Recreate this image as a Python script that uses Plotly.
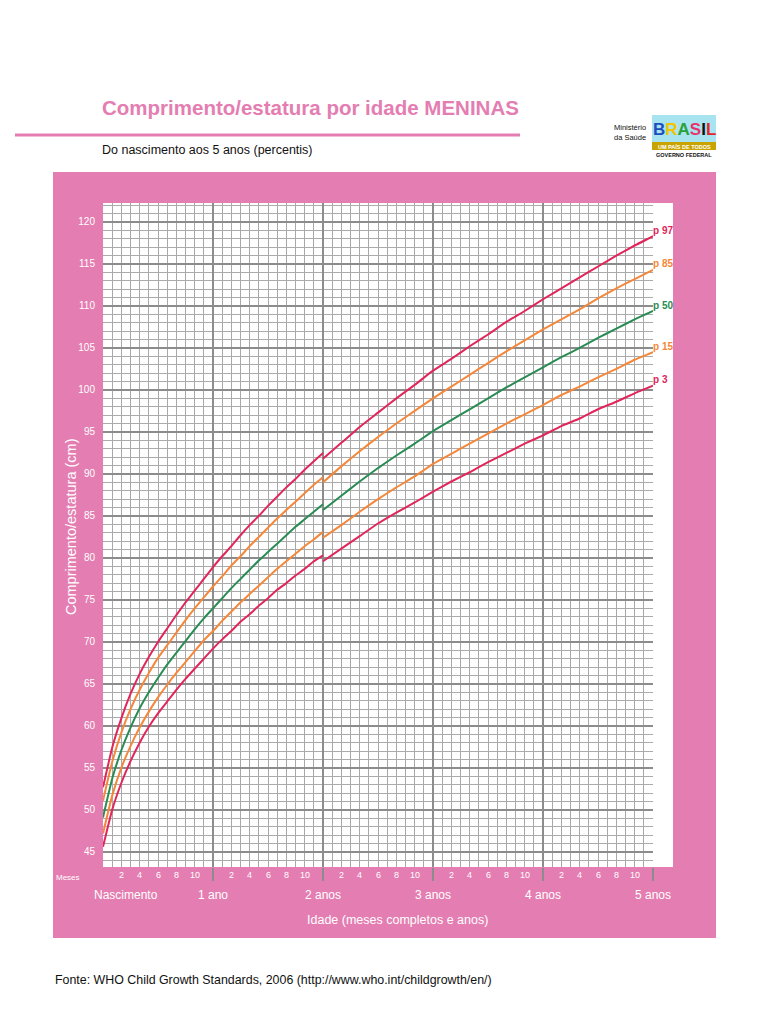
#!/usr/bin/env python3
"""
Curva OMS: comprimento/estatura por idade, meninas de 0 a 5 anos.
"""

import plotly.graph_objects as go

# idade em meses: comprimento (deitada) de 0 a 24, estatura (em pe) de 24 a 60
months_length = list(range(0, 25))
months_height = list(range(24, 61, 2))

p3_length = [45.6, 50.0, 53.2, 55.8, 58.0, 59.9, 61.5, 62.9, 64.3, 65.6, 66.8, 68.0, 69.2,
             70.3, 71.3, 72.4, 73.3, 74.3, 75.2, 76.2, 77.0, 77.9, 78.7, 79.6, 80.3]
p15_length = [47.2, 51.7, 55.0, 57.6, 59.8, 61.7, 63.4, 64.9, 66.3, 67.6, 68.9, 70.2, 71.3,
              72.5, 73.6, 74.7, 75.7, 76.7, 77.7, 78.7, 79.6, 80.5, 81.4, 82.2, 83.1]
p50_length = [49.1, 53.7, 57.1, 59.8, 62.1, 64.0, 65.7, 67.3, 68.7, 70.1, 71.5, 72.8, 74.0,
              75.2, 76.4, 77.5, 78.6, 79.7, 80.7, 81.7, 82.7, 83.7, 84.6, 85.5, 86.4]
p85_length = [51.1, 55.7, 59.2, 62.0, 64.3, 66.3, 68.1, 69.6, 71.1, 72.6, 74.0, 75.3, 76.6,
              77.8, 79.1, 80.2, 81.4, 82.5, 83.6, 84.7, 85.7, 86.7, 87.7, 88.7, 89.6]
p97_length = [52.7, 57.4, 60.9, 63.8, 66.2, 68.2, 70.0, 71.6, 73.2, 74.7, 76.1, 77.5, 78.9,
              80.2, 81.4, 82.7, 83.9, 85.0, 86.2, 87.3, 88.4, 89.4, 90.5, 91.5, 92.5]

p3_height = [79.6, 81.1, 82.6, 84.1, 85.4, 86.6, 87.9, 89.1, 90.2, 91.4,
             92.5, 93.6, 94.6, 95.7, 96.6, 97.7, 98.6, 99.6, 100.5]
p15_height = [82.4, 83.9, 85.5, 87.0, 88.4, 89.7, 91.2, 92.4, 93.6, 94.8,
              96.0, 97.1, 98.2, 99.4, 100.4, 101.5, 102.5, 103.6, 104.5]
p50_height = [85.7, 87.4, 89.1, 90.7, 92.2, 93.6, 95.1, 96.4, 97.7, 99.0,
              100.3, 101.5, 102.7, 103.9, 105.0, 106.2, 107.3, 108.4, 109.4]
p85_height = [89.0, 90.9, 92.7, 94.4, 96.0, 97.5, 99.0, 100.4, 101.8, 103.2,
              104.6, 105.9, 107.2, 108.4, 109.6, 110.9, 112.1, 113.2, 114.3]
p97_height = [91.8, 93.7, 95.6, 97.3, 99.0, 100.6, 102.3, 103.7, 105.2, 106.6,
              108.1, 109.4, 110.8, 112.1, 113.4, 114.7, 116.0, 117.2, 118.3]

percentile_names = ['p 97', 'p 85', 'p 50', 'p 15', 'p 3']

# rotulos dos eixos
year_ticks = [0, 12, 24, 36, 48, 60]
year_labels = ['Nascimento', '1 ano', '2 anos', '3 anos', '4 anos', '5 anos']
month_ticks = [y + m for y in range(0, 60, 12) for m in (2, 4, 6, 8, 10)]
month_labels = [str(m) for y in range(0, 60, 12) for m in (2, 4, 6, 8, 10)]

RED = '#E0265A'
ORANGE = '#F5873A'
GREEN = '#2A8C55'
PINK = '#E47DB1'
FONT = 'Liberation Sans, Arial, sans-serif'

W, H = 768, 1024
OFF = 8  # margem padrao do <body> na pagina


def X(px):
    """pixel horizontal da tela -> coordenada paper"""
    return (px - OFF) / W


def Y(py):
    """pixel vertical da tela -> coordenada paper"""
    return 1 - (py - OFF) / H


Y_RANGE = [43.2, 122.26]
X_FULL = [0, 62.18]
X_DOM_FULL = [X(103), X(673)]
X_DOM_60 = [X(103), X(653)]
Y_DOM = [Y(867), Y(203)]


def build_figure():
    fig = go.Figure()

    series = [
        (p97_length, p97_height, RED),
        (p85_length, p85_height, ORANGE),
        (p50_length, p50_height, GREEN),
        (p15_length, p15_height, ORANGE),
        (p3_length, p3_height, RED),
    ]

    for name, (ylen, yht, color) in zip(percentile_names, series):
        fig.add_trace(go.Scatter(
            x=months_length + [None] + months_height,
            y=ylen + [None] + yht,
            mode='lines',
            name=name,
            line=dict(color=color, width=2, shape='spline', smoothing=0.4),
            xaxis='x2', yaxis='y2',
            connectgaps=False,
            showlegend=False,
            hovertemplate=name + '<br>%{x} meses: %{y:.1f} cm<extra></extra>',
        ))
        fig.add_annotation(
            x=months_height[-1], y=yht[-1], xref='x2', yref='y2',
            text='<b>' + name + '</b>', showarrow=False,
            xanchor='left', yanchor='middle', xshift=-2, yshift=6,
            font=dict(family=FONT, size=10, color=color),
        )

    fig.update_layout(
        width=W, height=H,
        margin=dict(l=0, r=0, t=0, b=0),
        paper_bgcolor='white',
        plot_bgcolor='white',
        # subplot largo (ate a borda branca): so as linhas de 5 cm
        xaxis=dict(domain=X_DOM_FULL, range=X_FULL, anchor='y',
                   showgrid=False, zeroline=False, showticklabels=False,
                   ticks='', fixedrange=True),
        yaxis=dict(domain=Y_DOM, range=Y_RANGE, anchor='x', side='right',
                   dtick=5, tick0=0, gridcolor='#8c8c8c', gridwidth=1.5,
                   zeroline=False, ticks='', ticklabelstandoff=6,
                   tickfont=dict(family=FONT, size=10, color='white'),
                   fixedrange=True),
        # subplot da grade de 0 a 60 meses
        xaxis2=dict(domain=X_DOM_60, range=[0, 60], anchor='y2',
                    tickvals=year_ticks[1:], ticktext=['' for _ in year_ticks[1:]],
                    ticks='outside', ticklen=13, tickwidth=2, tickcolor='#8c8c8c',
                    showgrid=True, gridcolor='#8c8c8c', gridwidth=2,
                    minor=dict(dtick=1, tick0=0, showgrid=True,
                               gridcolor='#a9a9a9', gridwidth=1, ticks=''),
                    zeroline=False, showline=False, fixedrange=True),
        yaxis2=dict(domain=Y_DOM, range=Y_RANGE, anchor='x2', side='left',
                    dtick=5, tick0=0, gridcolor='#8c8c8c', gridwidth=1.5,
                    minor=dict(dtick=1, tick0=0, showgrid=True,
                               gridcolor='#ababab', gridwidth=1, ticks=''),
                    zeroline=False, ticks='', ticklabelstandoff=7,
                    tickfont=dict(family=FONT, size=10, color='white'),
                    fixedrange=True),
        # meias linhas de 0,5 cm
        yaxis3=dict(overlaying='y2', anchor='x2', range=Y_RANGE, side='left',
                    dtick=1, tick0=0.5, gridcolor='#d4d4d4', gridwidth=1,
                    showticklabels=False, zeroline=False, ticks='',
                    fixedrange=True),
    )

    # fundo rosa do quadro e area branca da grade
    fig.add_shape(type='rect', xref='paper', yref='paper', layer='below',
                  x0=X(53), x1=X(716), y0=Y(938), y1=Y(172),
                  fillcolor=PINK, line=dict(width=0))
    fig.add_shape(type='rect', xref='paper', yref='paper', layer='below',
                  x0=X(103), x1=X(673), y0=Y(867), y1=Y(203),
                  fillcolor='white', line=dict(width=0))
    # linha rosa sob o titulo
    fig.add_shape(type='line', xref='paper', yref='paper',
                  x0=X(15), x1=X(520), y0=Y(135), y1=Y(135),
                  line=dict(color=PINK, width=3))

    # numeros dos meses
    for xv, label in zip(month_ticks, month_labels):
        fig.add_annotation(
            x=xv, y=Y(875), xref='x2', yref='paper', text=label, showarrow=False,
            xanchor='center', yanchor='middle',
            font=dict(family=FONT, size=9, color='white'),
        )

    # rotulos de ano
    for xv, label in zip(year_ticks, year_labels):
        fig.add_annotation(
            x=xv, y=Y(895), xref='x2', yref='paper',
            text=label, showarrow=False, yanchor='middle',
            xanchor='left' if xv == 0 else 'center', xshift=-11 if xv == 0 else 0,
            font=dict(family=FONT, size=12, color='white'),
        )

    texts = [
        dict(x=X(68), y=Y(877), text='Meses',
             font=dict(family=FONT, size=8, color='white')),
        dict(x=X(397), y=Y(920), text='Idade (meses completos e anos)',
             font=dict(family=FONT, size=12.5, color='white')),
        dict(x=X(71), y=Y(527), text='Comprimento/estatura (cm)', textangle=-90,
             font=dict(family=FONT, size=14.5, color='white')),
        dict(x=X(100), y=Y(107), xanchor='left',
             text='<b>Comprimento/estatura por idade MENINAS</b>',
             font=dict(family=FONT, size=20.5, color=PINK)),
        dict(x=X(100), y=Y(150), xanchor='left',
             text='Do nascimento aos 5 anos (percentis)',
             font=dict(family=FONT, size=12.5, color='#111111')),
        dict(x=X(53), y=Y(980), xanchor='left',
             text='Fonte: WHO Child Growth Standards, 2006 (http://www.who.int/childgrowth/en/)',
             font=dict(family=FONT, size=12.4, color='#111111')),
        dict(x=X(648), y=Y(132), xanchor='right', align='right',
             text='Ministério<br>da Saúde',
             font=dict(family=FONT, size=7.5, color='#111111')),
    ]
    for t in texts:
        t.setdefault('xanchor', 'center')
        fig.add_annotation(xref='paper', yref='paper', showarrow=False,
                           yanchor='middle', **t)

    # marca BRASIL
    fig.add_shape(type='rect', xref='paper', yref='paper',
                  x0=X(652), x1=X(716), y0=Y(142), y1=Y(115),
                  fillcolor='#a8e4f0', line=dict(width=0))
    fig.add_shape(type='rect', xref='paper', yref='paper',
                  x0=X(652), x1=X(716), y0=Y(150), y1=Y(142),
                  fillcolor='#c9a400', line=dict(width=0))
    letters = [('B', '#1f4fbf'), ('R', '#f2c500'), ('A', '#2aa13a'),
               ('S', '#e8336d'), ('I', '#111111'), ('L', '#e0262b')]
    fig.add_annotation(
        x=X(684), y=Y(129), xref='paper', yref='paper', showarrow=False,
        xanchor='center', yanchor='middle',
        text='<b>' + ''.join(f'<span style="color:{c}">{ch}</span>' for ch, c in letters) + '</b>',
        font=dict(family=FONT, size=17),
    )
    fig.add_annotation(
        x=X(684), y=Y(146), xref='paper', yref='paper', showarrow=False,
        xanchor='center', yanchor='middle',
        text='<b>UM PAÍS DE TODOS</b>', font=dict(family=FONT, size=5.5, color='white'),
    )
    fig.add_annotation(
        x=X(684), y=Y(155), xref='paper', yref='paper', showarrow=False,
        xanchor='center', yanchor='middle',
        text='<b>GOVERNO FEDERAL</b>', font=dict(family=FONT, size=5.5, color='#111111'),
    )

    return fig


def main():
    fig = build_figure()
    fig.write_html('out.html')


if __name__ == '__main__':
    main()
